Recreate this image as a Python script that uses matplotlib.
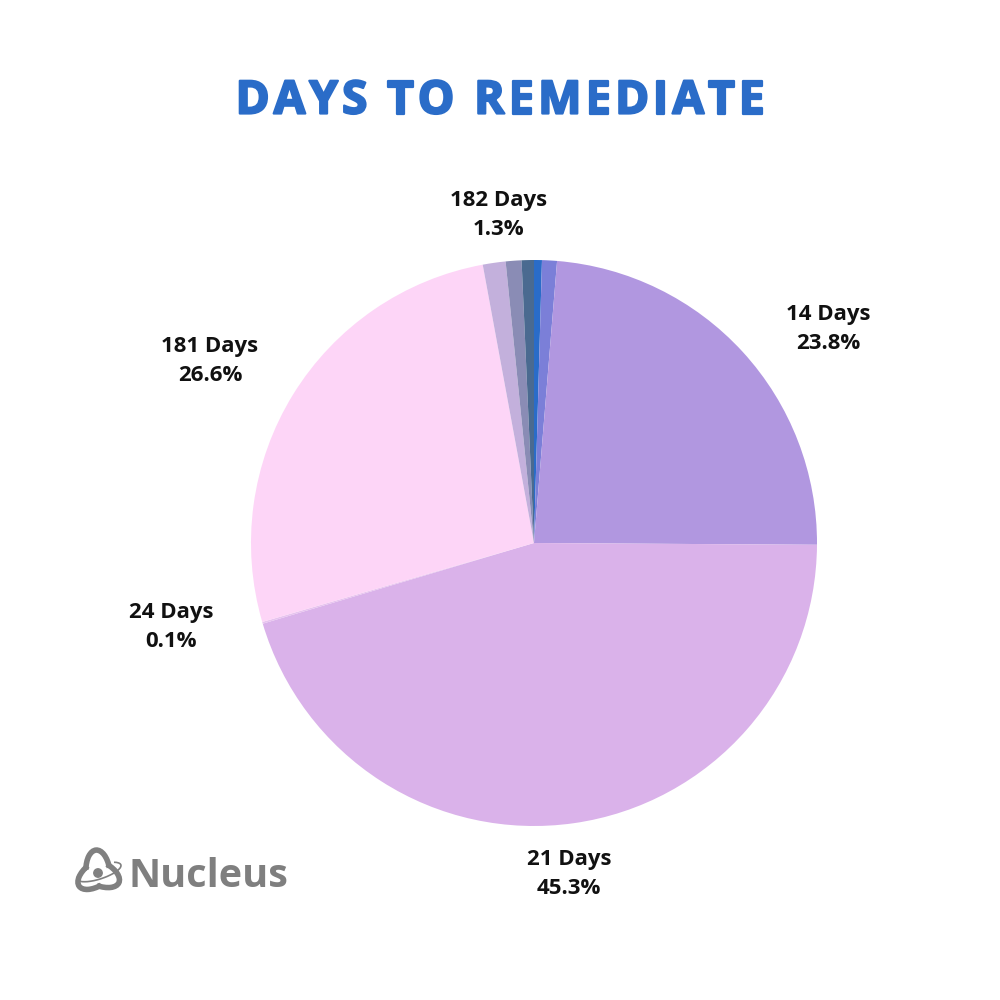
import numpy as np
import matplotlib
matplotlib.use("Agg")
import matplotlib.pyplot as plt
import matplotlib.patheffects as pe
from matplotlib.patches import Arc, Circle

# ---- data ----
categories = ["7 Days", "10 Days", "14 Days", "21 Days", "24 Days", "181 Days",
              "182 Days", "365 Days", "Other"]
shares = [0.45, 0.85, 23.8, 45.3, 0.1, 26.6, 1.3, 0.9, 0.7]
show_label = [False, False, True, True, True, True, True, False, False]
colors = ["#2a6cc8", "#7b7fd8", "#b197e0", "#dab2ea", "#e7c3ef", "#fdd5f7",
          "#c3b0dc", "#8a8cb5", "#4a6a90"]
title = "DAYS TO REMEDIATE"
brand = "Nucleus"

plt.rcParams['font.family'] = ['Open Sans', 'DejaVu Sans']

fig = plt.figure(figsize=(10, 10), dpi=100)
fig.patch.set_facecolor("white")

cx, cy, R = 534, 543, 283  # pixel layout of pie
ax = fig.add_axes([(cx - R) / 1000, (1000 - cy - R) / 1000, 2 * R / 1000, 2 * R / 1000])
wedges, _ = ax.pie(shares, colors=colors, startangle=90, counterclock=False,
                   radius=1.0, wedgeprops=dict(linewidth=0))
ax.set_xlim(-1, 1)
ax.set_ylim(-1, 1)
ax.set_aspect("equal")
ax.axis("off")

total = sum(shares)
ld = 1.17
offset = -2.0  # label angle shift (degrees, clockwise)
for w, cat, s, show in zip(wedges, categories, shares, show_label):
    if not show:
        continue
    ang = np.deg2rad((w.theta1 + w.theta2) / 2 + offset)
    x, y = ld * np.cos(ang), ld * np.sin(ang) - 0.005
    if abs(np.cos(ang)) < 0.3:
        ha = "center"
    else:
        ha = "left" if x > 0 else "right"
    ax.text(x, y, f"{cat}\n{s / total * 100:.1f}%", ha=ha, va="center",
            multialignment="center", fontsize=16, fontweight="bold",
            color="#111111", linespacing=1.5, clip_on=False)

# title with letter spacing (slightly emboldened)
renderer = fig.canvas.get_renderer()
tsize, tspace, space_w = 33, 4.0, 12
widths = []
for ch in title:
    if ch == " ":
        widths.append(space_w)
        continue
    t = fig.text(0, 0, ch, fontsize=tsize, fontweight="bold")
    widths.append(t.get_window_extent(renderer).width)
    t.remove()
total_w = sum(widths) + tspace * (len(title) - 1)
xpix = 500 - total_w / 2
for ch, wd in zip(title, widths):
    if ch != " ":
        fig.text(xpix / 1000, 1 - 101 / 1000, ch, ha="left", va="center",
                 fontsize=tsize, fontweight="bold", color="#2a6cc8",
                 path_effects=[pe.Stroke(linewidth=1.6, foreground="#2a6cc8"), pe.Normal()])
    xpix += wd + tspace

# brand logo
fig.text(0.128, 1 - 872 / 1000, brand, ha="left", va="center_baseline", fontsize=28.5,
         fontweight="bold", color="#7f7f7f")

def P(x, y):
    return (x / 1000, 1 - y / 1000)

grey = "#808080"
icx, icy = 98, 873
for a in (95, 215, 335):
    fig.patches.append(Arc(P(icx, icy), 0.046, 0.024, angle=a, theta1=-70, theta2=70,
                           edgecolor=grey, linewidth=4.0, transform=fig.transFigure))
fig.patches.append(Arc(P(icx + 1, icy - 1), 0.046, 0.014, angle=18, theta1=150, theta2=375,
                       edgecolor=grey, linewidth=1.2, transform=fig.transFigure))
fig.patches.append(Circle(P(icx, icy), 0.0042, color=grey, transform=fig.transFigure))

fig.savefig("out.png", dpi=100)
